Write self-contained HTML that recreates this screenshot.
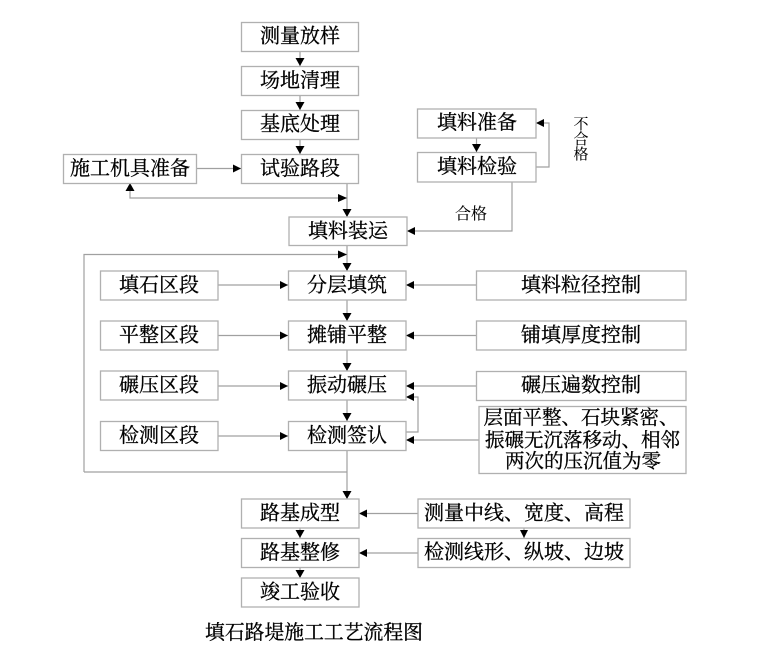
<!DOCTYPE html>
<html lang="zh">
<head>
<meta charset="utf-8">
<title>填石路堤施工工艺流程图</title>
<style>
html,body{margin:0;padding:0;background:#fff;width:760px;height:654px;overflow:hidden}
svg{display:block;filter:blur(0.35px)}
text{font-family:"Liberation Serif","Noto Serif CJK SC",serif;fill:#000;stroke:#000;stroke-width:0.3px;font-size:20px;text-anchor:middle}
.b rect{fill:#fff;stroke:#b0b0b0;stroke-width:1.3}
.l path{fill:none;stroke:#a0a0a0;stroke-width:1.2}
.a path{fill:#000}
</style>
</head>
<body>
<svg width="760" height="654" viewBox="0 0 760 654" xmlns="http://www.w3.org/2000/svg">
<g class="l">
<path d="M300 51V66M300 95V110M300 139V154M197 168.500H241"/>
<path d="M130 183V198H347M347 183V217M347 245V271M84 472V254.500H347M347 450V499M84 472H347"/>
<path d="M476.500 138V152M536 167H549V123H536M512 182V231H407"/>
<path d="M218 285H288M218 335.500H288M218 386H288M218 436H288"/>
<path d="M476 285H406M476 335.500H406M476 386H406M479 440H406M406 432H418V397H406"/>
<path d="M347 300V321M347 350V371M347 400V421"/>
<path d="M418 513.500H359M418 553H359M300 528V538M300 568V578M524 528V538"/>
</g>
<g class="a">
<path d="M295.500 58L304.500 58L300 66Z"/>
<path d="M295.500 102L304.500 102L300 110Z"/>
<path d="M295.500 146L304.500 146L300 154Z"/>
<path d="M233 164.500L241 168.500L233 172.500Z"/>
<path d="M125.500 191L134.500 191L130 183Z"/>
<path d="M338 194L347 198L338 202Z"/>
<path d="M342.500 209L351.500 209L347 217Z"/>
<path d="M338 250.500L347 254.500L338 258.500Z"/>
<path d="M342.500 263L351.500 263L347 271Z"/>
<path d="M472 144L481 144L476.500 152Z"/>
<path d="M544 119L536 123L544 127Z"/>
<path d="M415 227L407 231L415 235Z"/>
<path d="M280 281L288 285L280 289Z"/>
<path d="M280 331.500L288 335.500L280 339.500Z"/>
<path d="M280 382L288 386L280 390Z"/>
<path d="M280 432L288 436L280 440Z"/>
<path d="M414 281L406 285L414 289Z"/>
<path d="M414 331.500L406 335.500L414 339.500Z"/>
<path d="M414 382L406 386L414 390Z"/>
<path d="M414 393L406 397L414 401Z"/>
<path d="M414 436L406 440L414 444Z"/>
<path d="M342.500 313L351.500 313L347 321Z"/>
<path d="M342.500 363L351.500 363L347 371Z"/>
<path d="M342.500 413L351.500 413L347 421Z"/>
<path d="M342.500 491L351.500 491L347 499Z"/>
<path d="M367 509.500L359 513.500L367 517.500Z"/>
<path d="M367 549L359 553L367 557Z"/>
<path d="M295.500 530L304.500 530L300 538Z"/>
<path d="M295.500 570L304.500 570L300 578Z"/>
<path d="M520 530L528 530L524 538Z"/>
</g>
<g class="b">
<rect x="241.500" y="22.500" width="117" height="29"/>
<rect x="241.500" y="66.500" width="117" height="29"/>
<rect x="241.500" y="110.500" width="117" height="29"/>
<rect x="241.500" y="154.500" width="117" height="29"/>
<rect x="63.500" y="154.500" width="133" height="29"/>
<rect x="289" y="217" width="118" height="28.500"/>
<rect x="417.500" y="109" width="118.500" height="29"/>
<rect x="417.500" y="152.500" width="118.500" height="29.500"/>
<rect x="100.500" y="271" width="117.500" height="29"/>
<rect x="100.500" y="321" width="117.500" height="29"/>
<rect x="100.500" y="371" width="117.500" height="29"/>
<rect x="100.500" y="421.500" width="117.500" height="29"/>
<rect x="288.500" y="271" width="117.500" height="29"/>
<rect x="288.500" y="321" width="117.500" height="29"/>
<rect x="288.500" y="371" width="117.500" height="29"/>
<rect x="288.500" y="421.500" width="117.500" height="29"/>
<rect x="476.500" y="271" width="209.500" height="29"/>
<rect x="476.500" y="321" width="209.500" height="29"/>
<rect x="476.500" y="371.500" width="209.500" height="29"/>
<rect x="479" y="406.500" width="207" height="67"/>
<rect x="418" y="499" width="212" height="29"/>
<rect x="418" y="538.500" width="212" height="29"/>
<rect x="241.500" y="499" width="117.500" height="29"/>
<rect x="241.500" y="538.500" width="117.500" height="29"/>
<rect x="241.500" y="578" width="117.500" height="29"/>
</g>
<g>
<text x="300" y="42.500">测量放样</text>
<text x="300" y="87">场地清理</text>
<text x="300" y="130.500">基底处理</text>
<text x="300" y="175">试验路段</text>
<text x="130" y="175">施工机具准备</text>
<text x="348" y="237.500">填料装运</text>
<text x="477" y="129">填料准备</text>
<text x="477" y="173">填料检验</text>
<text x="159" y="291.500">填石区段</text>
<text x="159" y="341.500">平整区段</text>
<text x="159" y="391.500">碾压区段</text>
<text x="159" y="442">检测区段</text>
<text x="347" y="291.500">分层填筑</text>
<text x="347" y="341.500">摊铺平整</text>
<text x="347" y="391.500">振动碾压</text>
<text x="347" y="442">检测签认</text>
<text x="581" y="291.500">填料粒径控制</text>
<text x="581" y="341.500">铺填厚度控制</text>
<text x="581" y="391.500">碾压遍数控制</text>
<text x="581" y="424" style="font-size:19.500px">层面平整、石块紧密、</text>
<text x="582.500" y="446.500" style="font-size:19.500px">振碾无沉落移动、相邻</text>
<text x="583" y="467.500" style="font-size:19.500px">两次的压沉值为零</text>
<text x="524" y="519.500">测量中线、宽度、高程</text>
<text x="524" y="558.500">检测线形、纵坡、边坡</text>
<text x="300" y="519.500">路基成型</text>
<text x="300" y="559">路基整修</text>
<text x="300" y="598.500">竣工验收</text>
<text x="314" y="639" textLength="218" lengthAdjust="spacingAndGlyphs">填石路堤施工工艺流程图</text>
<text x="471" y="219" style="font-size:16px;stroke-width:0.1px">合格</text>
<text x="581" y="129" style="font-size:15px;stroke-width:0.1px">不</text>
<text x="581" y="144" style="font-size:15px;stroke-width:0.1px">合</text>
<text x="581" y="159" style="font-size:15px;stroke-width:0.1px">格</text>
</g>
</svg>
</body>
</html>
